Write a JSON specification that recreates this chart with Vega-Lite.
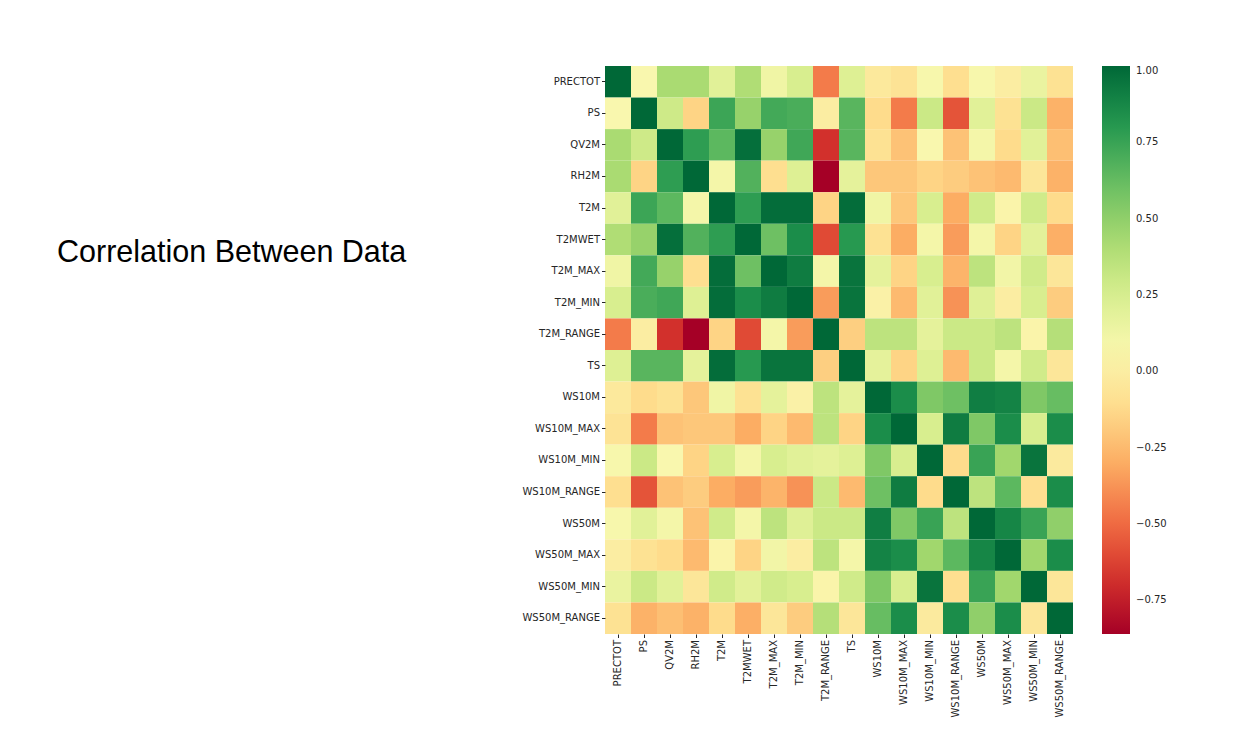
{
  "$schema": "https://vega.github.io/schema/vega-lite/v6.json",
  "width": 468,
  "height": 568,
  "autosize": {"type": "none"},
  "padding": {"left": 605, "top": 66, "right": 167, "bottom": 106},
  "background": "white",
  "title": {
    "text": "Correlation Between Data",
    "anchor": "start",
    "frame": "group",
    "dx": -548,
    "dy": 226,
    "baseline": "alphabetic",
    "font": "Liberation Sans",
    "fontSize": 30.5,
    "fontWeight": "normal",
    "color": "#000000",
    "offset": 0
  },
  "config": {
    "view": {"stroke": null},
    "axis": {
      "labelFont": "DejaVu Sans",
      "labelFontSize": 10,
      "labelColor": "#262626",
      "tickColor": "#262626",
      "tickSize": 3.5,
      "tickWidth": 1,
      "labelPadding": 2,
      "domain": false,
      "grid": false,
      "title": null
    },
    "legend": {
      "labelFont": "DejaVu Sans",
      "labelFontSize": 10,
      "labelColor": "#262626"
    }
  },
  "data": {
    "values": [
{"row":"PRECTOT","col":"PRECTOT","corr":1},{"row":"PRECTOT","col":"PS","corr":0.07},{"row":"PRECTOT","col":"QV2M","corr":0.42},{"row":"PRECTOT","col":"RH2M","corr":0.42},{"row":"PRECTOT","col":"T2M","corr":0.2},{"row":"PRECTOT","col":"T2MWET","corr":0.4},{"row":"PRECTOT","col":"T2M_MAX","corr":0.12},{"row":"PRECTOT","col":"T2M_MIN","corr":0.25},{"row":"PRECTOT","col":"T2M_RANGE","corr":-0.45},{"row":"PRECTOT","col":"TS","corr":0.22},{"row":"PRECTOT","col":"WS10M","corr":-0.03},{"row":"PRECTOT","col":"WS10M_MAX","corr":-0.07},{"row":"PRECTOT","col":"WS10M_MIN","corr":0.08},{"row":"PRECTOT","col":"WS10M_RANGE","corr":-0.1},{"row":"PRECTOT","col":"WS50M","corr":0.08},{"row":"PRECTOT","col":"WS50M_MAX","corr":0.0},{"row":"PRECTOT","col":"WS50M_MIN","corr":0.15},{"row":"PRECTOT","col":"WS50M_RANGE","corr":-0.08},
{"row":"PS","col":"PRECTOT","corr":0.07},{"row":"PS","col":"PS","corr":1},{"row":"PS","col":"QV2M","corr":0.29},{"row":"PS","col":"RH2M","corr":-0.15},{"row":"PS","col":"T2M","corr":0.74},{"row":"PS","col":"T2MWET","corr":0.48},{"row":"PS","col":"T2M_MAX","corr":0.72},{"row":"PS","col":"T2M_MIN","corr":0.7},{"row":"PS","col":"T2M_RANGE","corr":0.0},{"row":"PS","col":"TS","corr":0.66},{"row":"PS","col":"WS10M","corr":-0.12},{"row":"PS","col":"WS10M_MAX","corr":-0.45},{"row":"PS","col":"WS10M_MIN","corr":0.3},{"row":"PS","col":"WS10M_RANGE","corr":-0.57},{"row":"PS","col":"WS50M","corr":0.2},{"row":"PS","col":"WS50M_MAX","corr":-0.08},{"row":"PS","col":"WS50M_MIN","corr":0.3},{"row":"PS","col":"WS50M_RANGE","corr":-0.28},
{"row":"QV2M","col":"PRECTOT","corr":0.42},{"row":"QV2M","col":"PS","corr":0.29},{"row":"QV2M","col":"QV2M","corr":1},{"row":"QV2M","col":"RH2M","corr":0.78},{"row":"QV2M","col":"T2M","corr":0.65},{"row":"QV2M","col":"T2MWET","corr":0.97},{"row":"QV2M","col":"T2M_MAX","corr":0.48},{"row":"QV2M","col":"T2M_MIN","corr":0.73},{"row":"QV2M","col":"T2M_RANGE","corr":-0.68},{"row":"QV2M","col":"TS","corr":0.66},{"row":"QV2M","col":"WS10M","corr":-0.08},{"row":"QV2M","col":"WS10M_MAX","corr":-0.22},{"row":"QV2M","col":"WS10M_MIN","corr":0.07},{"row":"QV2M","col":"WS10M_RANGE","corr":-0.22},{"row":"QV2M","col":"WS50M","corr":0.1},{"row":"QV2M","col":"WS50M_MAX","corr":-0.12},{"row":"QV2M","col":"WS50M_MIN","corr":0.2},{"row":"QV2M","col":"WS50M_RANGE","corr":-0.23},
{"row":"RH2M","col":"PRECTOT","corr":0.42},{"row":"RH2M","col":"PS","corr":-0.15},{"row":"RH2M","col":"QV2M","corr":0.78},{"row":"RH2M","col":"RH2M","corr":1},{"row":"RH2M","col":"T2M","corr":0.1},{"row":"RH2M","col":"T2MWET","corr":0.68},{"row":"RH2M","col":"T2M_MAX","corr":-0.1},{"row":"RH2M","col":"T2M_MIN","corr":0.22},{"row":"RH2M","col":"T2M_RANGE","corr":-0.86},{"row":"RH2M","col":"TS","corr":0.18},{"row":"RH2M","col":"WS10M","corr":-0.2},{"row":"RH2M","col":"WS10M_MAX","corr":-0.2},{"row":"RH2M","col":"WS10M_MIN","corr":-0.15},{"row":"RH2M","col":"WS10M_RANGE","corr":-0.18},{"row":"RH2M","col":"WS50M","corr":-0.22},{"row":"RH2M","col":"WS50M_MAX","corr":-0.25},{"row":"RH2M","col":"WS50M_MIN","corr":-0.05},{"row":"RH2M","col":"WS50M_RANGE","corr":-0.28},
{"row":"T2M","col":"PRECTOT","corr":0.2},{"row":"T2M","col":"PS","corr":0.74},{"row":"T2M","col":"QV2M","corr":0.65},{"row":"T2M","col":"RH2M","corr":0.1},{"row":"T2M","col":"T2M","corr":1},{"row":"T2M","col":"T2MWET","corr":0.78},{"row":"T2M","col":"T2M_MAX","corr":0.98},{"row":"T2M","col":"T2M_MIN","corr":0.98},{"row":"T2M","col":"T2M_RANGE","corr":-0.15},{"row":"T2M","col":"TS","corr":0.98},{"row":"T2M","col":"WS10M","corr":0.12},{"row":"T2M","col":"WS10M_MAX","corr":-0.2},{"row":"T2M","col":"WS10M_MIN","corr":0.25},{"row":"T2M","col":"WS10M_RANGE","corr":-0.3},{"row":"T2M","col":"WS50M","corr":0.28},{"row":"T2M","col":"WS50M_MAX","corr":0.05},{"row":"T2M","col":"WS50M_MIN","corr":0.28},{"row":"T2M","col":"WS50M_RANGE","corr":-0.12},
{"row":"T2MWET","col":"PRECTOT","corr":0.4},{"row":"T2MWET","col":"PS","corr":0.48},{"row":"T2MWET","col":"QV2M","corr":0.97},{"row":"T2MWET","col":"RH2M","corr":0.68},{"row":"T2MWET","col":"T2M","corr":0.78},{"row":"T2MWET","col":"T2MWET","corr":1},{"row":"T2MWET","col":"T2M_MAX","corr":0.6},{"row":"T2MWET","col":"T2M_MIN","corr":0.85},{"row":"T2MWET","col":"T2M_RANGE","corr":-0.6},{"row":"T2MWET","col":"TS","corr":0.8},{"row":"T2MWET","col":"WS10M","corr":-0.08},{"row":"T2MWET","col":"WS10M_MAX","corr":-0.3},{"row":"T2MWET","col":"WS10M_MIN","corr":0.1},{"row":"T2MWET","col":"WS10M_RANGE","corr":-0.35},{"row":"T2MWET","col":"WS50M","corr":0.1},{"row":"T2MWET","col":"WS50M_MAX","corr":-0.15},{"row":"T2MWET","col":"WS50M_MIN","corr":0.19},{"row":"T2MWET","col":"WS50M_RANGE","corr":-0.29},
{"row":"T2M_MAX","col":"PRECTOT","corr":0.12},{"row":"T2M_MAX","col":"PS","corr":0.72},{"row":"T2M_MAX","col":"QV2M","corr":0.48},{"row":"T2M_MAX","col":"RH2M","corr":-0.1},{"row":"T2M_MAX","col":"T2M","corr":0.98},{"row":"T2M_MAX","col":"T2MWET","corr":0.6},{"row":"T2M_MAX","col":"T2M_MAX","corr":1},{"row":"T2M_MAX","col":"T2M_MIN","corr":0.92},{"row":"T2M_MAX","col":"T2M_RANGE","corr":0.1},{"row":"T2M_MAX","col":"TS","corr":0.95},{"row":"T2M_MAX","col":"WS10M","corr":0.18},{"row":"T2M_MAX","col":"WS10M_MAX","corr":-0.15},{"row":"T2M_MAX","col":"WS10M_MIN","corr":0.25},{"row":"T2M_MAX","col":"WS10M_RANGE","corr":-0.27},{"row":"T2M_MAX","col":"WS50M","corr":0.35},{"row":"T2M_MAX","col":"WS50M_MAX","corr":0.11},{"row":"T2M_MAX","col":"WS50M_MIN","corr":0.28},{"row":"T2M_MAX","col":"WS50M_RANGE","corr":-0.05},
{"row":"T2M_MIN","col":"PRECTOT","corr":0.25},{"row":"T2M_MIN","col":"PS","corr":0.7},{"row":"T2M_MIN","col":"QV2M","corr":0.73},{"row":"T2M_MIN","col":"RH2M","corr":0.22},{"row":"T2M_MIN","col":"T2M","corr":0.98},{"row":"T2M_MIN","col":"T2MWET","corr":0.85},{"row":"T2M_MIN","col":"T2M_MAX","corr":0.92},{"row":"T2M_MIN","col":"T2M_MIN","corr":1},{"row":"T2M_MIN","col":"T2M_RANGE","corr":-0.35},{"row":"T2M_MIN","col":"TS","corr":0.95},{"row":"T2M_MIN","col":"WS10M","corr":0.03},{"row":"T2M_MIN","col":"WS10M_MAX","corr":-0.25},{"row":"T2M_MIN","col":"WS10M_MIN","corr":0.2},{"row":"T2M_MIN","col":"WS10M_RANGE","corr":-0.38},{"row":"T2M_MIN","col":"WS50M","corr":0.21},{"row":"T2M_MIN","col":"WS50M_MAX","corr":0.0},{"row":"T2M_MIN","col":"WS50M_MIN","corr":0.25},{"row":"T2M_MIN","col":"WS50M_RANGE","corr":-0.18},
{"row":"T2M_RANGE","col":"PRECTOT","corr":-0.45},{"row":"T2M_RANGE","col":"PS","corr":0.0},{"row":"T2M_RANGE","col":"QV2M","corr":-0.68},{"row":"T2M_RANGE","col":"RH2M","corr":-0.86},{"row":"T2M_RANGE","col":"T2M","corr":-0.15},{"row":"T2M_RANGE","col":"T2MWET","corr":-0.6},{"row":"T2M_RANGE","col":"T2M_MAX","corr":0.1},{"row":"T2M_RANGE","col":"T2M_MIN","corr":-0.35},{"row":"T2M_RANGE","col":"T2M_RANGE","corr":1},{"row":"T2M_RANGE","col":"TS","corr":-0.17},{"row":"T2M_RANGE","col":"WS10M","corr":0.35},{"row":"T2M_RANGE","col":"WS10M_MAX","corr":0.35},{"row":"T2M_RANGE","col":"WS10M_MIN","corr":0.18},{"row":"T2M_RANGE","col":"WS10M_RANGE","corr":0.3},{"row":"T2M_RANGE","col":"WS50M","corr":0.3},{"row":"T2M_RANGE","col":"WS50M_MAX","corr":0.35},{"row":"T2M_RANGE","col":"WS50M_MIN","corr":0.05},{"row":"T2M_RANGE","col":"WS50M_RANGE","corr":0.38},
{"row":"TS","col":"PRECTOT","corr":0.22},{"row":"TS","col":"PS","corr":0.66},{"row":"TS","col":"QV2M","corr":0.66},{"row":"TS","col":"RH2M","corr":0.18},{"row":"TS","col":"T2M","corr":0.98},{"row":"TS","col":"T2MWET","corr":0.8},{"row":"TS","col":"T2M_MAX","corr":0.95},{"row":"TS","col":"T2M_MIN","corr":0.95},{"row":"TS","col":"T2M_RANGE","corr":-0.17},{"row":"TS","col":"TS","corr":1},{"row":"TS","col":"WS10M","corr":0.18},{"row":"TS","col":"WS10M_MAX","corr":-0.15},{"row":"TS","col":"WS10M_MIN","corr":0.22},{"row":"TS","col":"WS10M_RANGE","corr":-0.25},{"row":"TS","col":"WS50M","corr":0.3},{"row":"TS","col":"WS50M_MAX","corr":0.1},{"row":"TS","col":"WS50M_MIN","corr":0.28},{"row":"TS","col":"WS50M_RANGE","corr":-0.05},
{"row":"WS10M","col":"PRECTOT","corr":-0.03},{"row":"WS10M","col":"PS","corr":-0.12},{"row":"WS10M","col":"QV2M","corr":-0.08},{"row":"WS10M","col":"RH2M","corr":-0.2},{"row":"WS10M","col":"T2M","corr":0.12},{"row":"WS10M","col":"T2MWET","corr":-0.08},{"row":"WS10M","col":"T2M_MAX","corr":0.18},{"row":"WS10M","col":"T2M_MIN","corr":0.03},{"row":"WS10M","col":"T2M_RANGE","corr":0.35},{"row":"WS10M","col":"TS","corr":0.18},{"row":"WS10M","col":"WS10M","corr":1},{"row":"WS10M","col":"WS10M_MAX","corr":0.85},{"row":"WS10M","col":"WS10M_MIN","corr":0.55},{"row":"WS10M","col":"WS10M_RANGE","corr":0.6},{"row":"WS10M","col":"WS50M","corr":0.91},{"row":"WS10M","col":"WS50M_MAX","corr":0.89},{"row":"WS10M","col":"WS50M_MIN","corr":0.55},{"row":"WS10M","col":"WS50M_RANGE","corr":0.62},
{"row":"WS10M_MAX","col":"PRECTOT","corr":-0.07},{"row":"WS10M_MAX","col":"PS","corr":-0.45},{"row":"WS10M_MAX","col":"QV2M","corr":-0.22},{"row":"WS10M_MAX","col":"RH2M","corr":-0.2},{"row":"WS10M_MAX","col":"T2M","corr":-0.2},{"row":"WS10M_MAX","col":"T2MWET","corr":-0.3},{"row":"WS10M_MAX","col":"T2M_MAX","corr":-0.15},{"row":"WS10M_MAX","col":"T2M_MIN","corr":-0.25},{"row":"WS10M_MAX","col":"T2M_RANGE","corr":0.35},{"row":"WS10M_MAX","col":"TS","corr":-0.15},{"row":"WS10M_MAX","col":"WS10M","corr":0.85},{"row":"WS10M_MAX","col":"WS10M_MAX","corr":1},{"row":"WS10M_MAX","col":"WS10M_MIN","corr":0.25},{"row":"WS10M_MAX","col":"WS10M_RANGE","corr":0.92},{"row":"WS10M_MAX","col":"WS50M","corr":0.55},{"row":"WS10M_MAX","col":"WS50M_MAX","corr":0.85},{"row":"WS10M_MAX","col":"WS50M_MIN","corr":0.25},{"row":"WS10M_MAX","col":"WS50M_RANGE","corr":0.85},
{"row":"WS10M_MIN","col":"PRECTOT","corr":0.08},{"row":"WS10M_MIN","col":"PS","corr":0.3},{"row":"WS10M_MIN","col":"QV2M","corr":0.07},{"row":"WS10M_MIN","col":"RH2M","corr":-0.15},{"row":"WS10M_MIN","col":"T2M","corr":0.25},{"row":"WS10M_MIN","col":"T2MWET","corr":0.1},{"row":"WS10M_MIN","col":"T2M_MAX","corr":0.25},{"row":"WS10M_MIN","col":"T2M_MIN","corr":0.2},{"row":"WS10M_MIN","col":"T2M_RANGE","corr":0.18},{"row":"WS10M_MIN","col":"TS","corr":0.22},{"row":"WS10M_MIN","col":"WS10M","corr":0.55},{"row":"WS10M_MIN","col":"WS10M_MAX","corr":0.25},{"row":"WS10M_MIN","col":"WS10M_MIN","corr":1},{"row":"WS10M_MIN","col":"WS10M_RANGE","corr":-0.12},{"row":"WS10M_MIN","col":"WS50M","corr":0.75},{"row":"WS10M_MIN","col":"WS50M_MAX","corr":0.45},{"row":"WS10M_MIN","col":"WS50M_MIN","corr":0.95},{"row":"WS10M_MIN","col":"WS50M_RANGE","corr":-0.02},
{"row":"WS10M_RANGE","col":"PRECTOT","corr":-0.1},{"row":"WS10M_RANGE","col":"PS","corr":-0.57},{"row":"WS10M_RANGE","col":"QV2M","corr":-0.22},{"row":"WS10M_RANGE","col":"RH2M","corr":-0.18},{"row":"WS10M_RANGE","col":"T2M","corr":-0.3},{"row":"WS10M_RANGE","col":"T2MWET","corr":-0.35},{"row":"WS10M_RANGE","col":"T2M_MAX","corr":-0.27},{"row":"WS10M_RANGE","col":"T2M_MIN","corr":-0.38},{"row":"WS10M_RANGE","col":"T2M_RANGE","corr":0.3},{"row":"WS10M_RANGE","col":"TS","corr":-0.25},{"row":"WS10M_RANGE","col":"WS10M","corr":0.6},{"row":"WS10M_RANGE","col":"WS10M_MAX","corr":0.92},{"row":"WS10M_RANGE","col":"WS10M_MIN","corr":-0.12},{"row":"WS10M_RANGE","col":"WS10M_RANGE","corr":1},{"row":"WS10M_RANGE","col":"WS50M","corr":0.35},{"row":"WS10M_RANGE","col":"WS50M_MAX","corr":0.65},{"row":"WS10M_RANGE","col":"WS50M_MIN","corr":-0.1},{"row":"WS10M_RANGE","col":"WS50M_RANGE","corr":0.85},
{"row":"WS50M","col":"PRECTOT","corr":0.08},{"row":"WS50M","col":"PS","corr":0.2},{"row":"WS50M","col":"QV2M","corr":0.1},{"row":"WS50M","col":"RH2M","corr":-0.22},{"row":"WS50M","col":"T2M","corr":0.28},{"row":"WS50M","col":"T2MWET","corr":0.1},{"row":"WS50M","col":"T2M_MAX","corr":0.35},{"row":"WS50M","col":"T2M_MIN","corr":0.21},{"row":"WS50M","col":"T2M_RANGE","corr":0.3},{"row":"WS50M","col":"TS","corr":0.3},{"row":"WS50M","col":"WS10M","corr":0.91},{"row":"WS50M","col":"WS10M_MAX","corr":0.55},{"row":"WS50M","col":"WS10M_MIN","corr":0.75},{"row":"WS50M","col":"WS10M_RANGE","corr":0.35},{"row":"WS50M","col":"WS50M","corr":1},{"row":"WS50M","col":"WS50M_MAX","corr":0.88},{"row":"WS50M","col":"WS50M_MIN","corr":0.75},{"row":"WS50M","col":"WS50M_RANGE","corr":0.5},
{"row":"WS50M_MAX","col":"PRECTOT","corr":0.0},{"row":"WS50M_MAX","col":"PS","corr":-0.08},{"row":"WS50M_MAX","col":"QV2M","corr":-0.12},{"row":"WS50M_MAX","col":"RH2M","corr":-0.25},{"row":"WS50M_MAX","col":"T2M","corr":0.05},{"row":"WS50M_MAX","col":"T2MWET","corr":-0.15},{"row":"WS50M_MAX","col":"T2M_MAX","corr":0.11},{"row":"WS50M_MAX","col":"T2M_MIN","corr":0.0},{"row":"WS50M_MAX","col":"T2M_RANGE","corr":0.35},{"row":"WS50M_MAX","col":"TS","corr":0.1},{"row":"WS50M_MAX","col":"WS10M","corr":0.89},{"row":"WS50M_MAX","col":"WS10M_MAX","corr":0.85},{"row":"WS50M_MAX","col":"WS10M_MIN","corr":0.45},{"row":"WS50M_MAX","col":"WS10M_RANGE","corr":0.65},{"row":"WS50M_MAX","col":"WS50M","corr":0.88},{"row":"WS50M_MAX","col":"WS50M_MAX","corr":1},{"row":"WS50M_MAX","col":"WS50M_MIN","corr":0.45},{"row":"WS50M_MAX","col":"WS50M_RANGE","corr":0.85},
{"row":"WS50M_MIN","col":"PRECTOT","corr":0.15},{"row":"WS50M_MIN","col":"PS","corr":0.3},{"row":"WS50M_MIN","col":"QV2M","corr":0.2},{"row":"WS50M_MIN","col":"RH2M","corr":-0.05},{"row":"WS50M_MIN","col":"T2M","corr":0.28},{"row":"WS50M_MIN","col":"T2MWET","corr":0.19},{"row":"WS50M_MIN","col":"T2M_MAX","corr":0.28},{"row":"WS50M_MIN","col":"T2M_MIN","corr":0.25},{"row":"WS50M_MIN","col":"T2M_RANGE","corr":0.05},{"row":"WS50M_MIN","col":"TS","corr":0.28},{"row":"WS50M_MIN","col":"WS10M","corr":0.55},{"row":"WS50M_MIN","col":"WS10M_MAX","corr":0.25},{"row":"WS50M_MIN","col":"WS10M_MIN","corr":0.95},{"row":"WS50M_MIN","col":"WS10M_RANGE","corr":-0.1},{"row":"WS50M_MIN","col":"WS50M","corr":0.75},{"row":"WS50M_MIN","col":"WS50M_MAX","corr":0.45},{"row":"WS50M_MIN","col":"WS50M_MIN","corr":1},{"row":"WS50M_MIN","col":"WS50M_RANGE","corr":-0.05},
{"row":"WS50M_RANGE","col":"PRECTOT","corr":-0.08},{"row":"WS50M_RANGE","col":"PS","corr":-0.28},{"row":"WS50M_RANGE","col":"QV2M","corr":-0.23},{"row":"WS50M_RANGE","col":"RH2M","corr":-0.28},{"row":"WS50M_RANGE","col":"T2M","corr":-0.12},{"row":"WS50M_RANGE","col":"T2MWET","corr":-0.29},{"row":"WS50M_RANGE","col":"T2M_MAX","corr":-0.05},{"row":"WS50M_RANGE","col":"T2M_MIN","corr":-0.18},{"row":"WS50M_RANGE","col":"T2M_RANGE","corr":0.38},{"row":"WS50M_RANGE","col":"TS","corr":-0.05},{"row":"WS50M_RANGE","col":"WS10M","corr":0.62},{"row":"WS50M_RANGE","col":"WS10M_MAX","corr":0.85},{"row":"WS50M_RANGE","col":"WS10M_MIN","corr":-0.02},{"row":"WS50M_RANGE","col":"WS10M_RANGE","corr":0.85},{"row":"WS50M_RANGE","col":"WS50M","corr":0.5},{"row":"WS50M_RANGE","col":"WS50M_MAX","corr":0.85},{"row":"WS50M_RANGE","col":"WS50M_MIN","corr":-0.05},{"row":"WS50M_RANGE","col":"WS50M_RANGE","corr":1}
    ]
  },
  "mark": {"type": "rect"},
  "encoding": {
    "x": {
      "field": "col",
      "type": "nominal",
      "sort": null,
      "scale": {"paddingInner": 0, "paddingOuter": 0},
      "axis": {"labelAngle": -90, "labelAlign": "right", "labelBaseline": "middle", "orient": "bottom"}
    },
    "y": {
      "field": "row",
      "type": "nominal",
      "sort": null,
      "scale": {"paddingInner": 0, "paddingOuter": 0},
      "axis": {"orient": "left"}
    },
    "color": {
      "field": "corr",
      "type": "quantitative",
      "scale": {"scheme": "redyellowgreen", "domain": [-0.86, 1]},
      "legend": {
        "title": null,
        "orient": "right",
        "offset": 29,
        "padding": 0,
        "direction": "vertical",
        "gradientLength": 568,
        "gradientThickness": 28,
        "gradientStrokeWidth": 0,
        "values": [1, 0.75, 0.5, 0.25, 0, -0.25, -0.5, -0.75],
        "format": ".2f",
        "labelOverlap": false,
        "labelOffset": 6,
        "labelBaseline": "middle"
      }
    }
  }
}
